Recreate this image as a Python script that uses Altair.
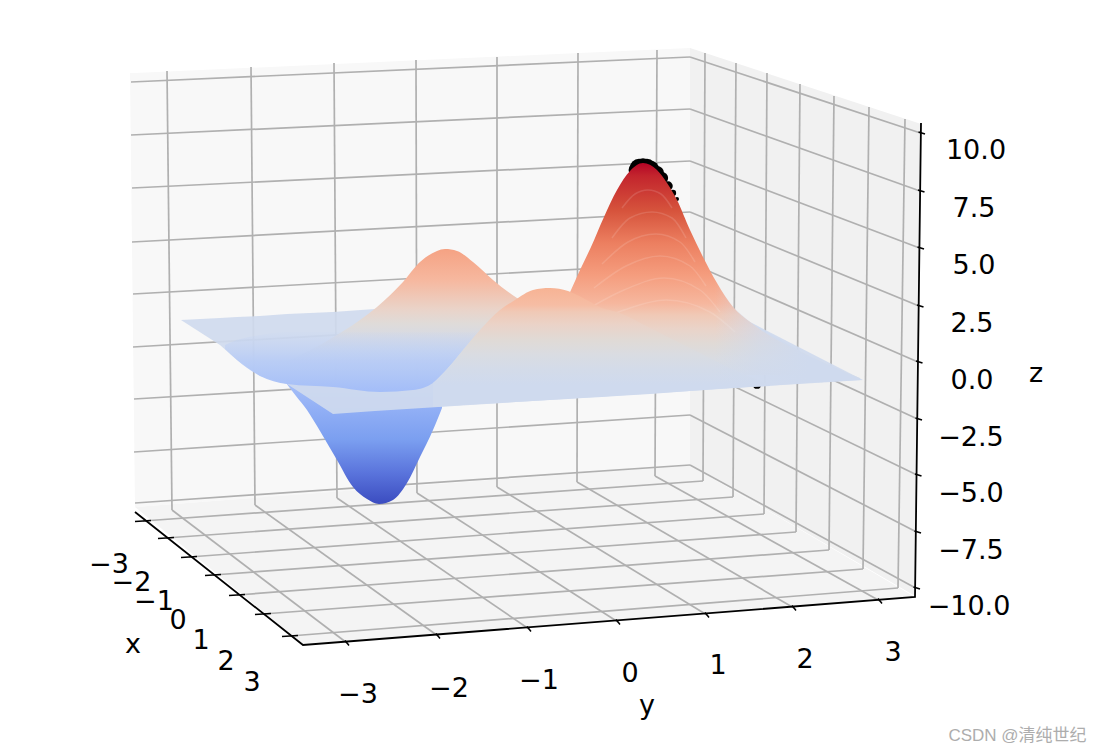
import altair as alt
import pandas as pd

W, H = 1101, 753
SX = alt.Scale(domain=[8, 1093], nice=False, zero=False)
SY = alt.Scale(domain=[745, 8], nice=False, zero=False)
X = alt.X("x:Q", scale=SX, axis=None)
Y = alt.Y("y:Q", scale=SY, axis=None)
Y2 = alt.Y2("y2:Q")

GRID = "#b0b0b0"
BASE = "#cfdaee"

# panes
back_wall = ([130, 135, 690, 691], [73, 73, 48, 48], [73, 507, 465, 48])
side_wall = ([690, 915, 921], [48, 122, 124], [465, 596, 124])
floor = ([135, 304, 690, 915], [507, 494, 465, 597], [507, 645, 615, 597])

# grid lines
wall_v_top = [(167, 71), (251, 67), (334, 63), (416, 60), (497, 57), (578, 53), (657, 50)]
wall_v_bot = [(172, 510), (255, 505), (337, 498), (417, 493), (497, 487), (577, 482), (655, 476)]
y_ticks_pos = [(347, 643), (438, 636), (529, 629), (618, 622), (707, 615), (794, 608), (880, 601)]
side_v_top = [(705, 53), (736, 63), (767, 73), (800, 84), (834, 96), (869, 107), (905, 119)]
side_v_bot = [(703, 481), (733, 497), (764, 514), (796, 532), (829, 550), (863, 569), (898, 588)]
x_ticks_pos = [(143, 521), (166, 538), (189, 557), (213, 575), (237, 595), (263, 614), (290, 636)]
z_left_y = [82, 135, 188, 242, 294, 347, 399, 452, 503]
z_left_x = [131, 131, 132, 132, 133, 133, 134, 134, 135]
z_mid_y = [57, 109, 161, 212, 263, 314, 365, 415, 465]
z_right_y = [133, 191, 248, 306, 362, 419, 475, 532, 588]
z_right_x = [920.5, 920, 919.5, 919, 918, 917.5, 917, 916.5, 915.5]

# axes
axis_x = [135, 303, 915, 921]
axis_y = [512, 645, 597, 123]

# labels
x_labels = ["\u22123", "\u22122", "\u22121", "0", "1", "2", "3"]
x_label_x = [109, 131.5, 154, 178, 201, 226, 252]
x_label_y = [573, 591, 610, 629, 649, 670, 691]
y_labels = ["\u22123", "\u22122", "\u22121", "0", "1", "2", "3"]
y_label_x = [358, 449, 539, 630, 718, 805, 893]
y_label_y = [703, 697, 689, 682, 674, 668, 661]
z_labels = ["10.0", "7.5", "5.0", "2.5", "0.0", "\u22122.5", "\u22125.0", "\u22127.5", "\u221210.0"]
z_label_x = [976, 974, 974, 972, 972, 971, 971, 971, 969]
z_label_y = [159, 217, 274, 332, 389, 446, 502, 559, 615]

# surface outlines
sheet_x = [181, 220, 237, 260, 287, 333, 375, 705, 750, 863]
sheet_top = [320, 318, 317, 316, 314, 312, 309, 292, 322, 380]
sheet_low = [320, 345, 360, 376, 384, 414, 411, 390, 387, 380]

pit_x = [286, 296, 307, 320, 337, 353, 367, 379, 393, 407, 420, 433, 442]
pit_top = [380] * 13
pit_low = [383, 396, 410, 431, 460, 487, 499, 504, 500, 483, 457, 430, 408]

peak_x = [565, 571, 580, 591, 604, 617, 630, 643, 657, 667, 677, 690, 703, 717, 733, 750, 807, 860]
peak_top = [303, 290, 270, 247, 217, 190, 171, 163, 170, 183, 200, 230, 257, 283, 307, 322, 355, 378]
peak_low = [375, 375, 375, 375, 375, 375, 375, 375, 375, 375, 375, 375, 375, 375, 375, 375, 375, 379]

# faint facet bands on the peak
arc_id = [1] * 5 + [2] * 5 + [3] * 5 + [4] * 5 + [5] * 5 + [6] * 5
arc_x = [622, 635, 648, 661, 672,
         612, 630, 652, 672, 686,
         602, 628, 656, 680, 695,
         594, 626, 660, 690, 706,
         586, 624, 664, 700, 720,
         588, 624, 666, 710, 735]
arc_y = [208, 194, 190, 194, 208,
         238, 218, 212, 218, 238,
         264, 242, 234, 242, 262,
         288, 266, 256, 266, 286,
         310, 290, 278, 290, 312,
         325, 310, 300, 312, 332]

hill1_x = [290, 320, 345, 360, 377, 403, 420, 437, 445, 457, 473, 493, 517, 545]
hill1_top = [360, 345, 330, 320, 307, 282, 262, 251, 249, 251, 262, 280, 298, 312]
hill1_low = [385] * 14

bowl_x = [225, 237, 260, 287, 333, 380, 413, 433, 448, 463, 480]
bowl_top = [345, 340, 335, 332, 332, 332, 332, 332, 332, 332, 330]
bowl_low = [349, 360, 376, 384, 387, 392, 390, 383, 368, 350, 330]

hill2_x = [433, 448, 463, 480, 500, 515, 533, 550, 568, 583, 602, 617, 650, 690, 730, 770]
hill2_top = [383, 368, 350, 330, 310, 300, 290, 288, 291, 298, 308, 312, 328, 348, 368, 385]
hill2_low = [407, 406, 405, 404, 403, 402, 401, 400, 399, 398, 397, 396, 394, 391, 388, 386]

flank_x = [715, 733, 750, 807, 860]
flank_top = [281, 307, 322, 355, 379]
flank_low = [389, 388, 387, 383, 380]

# scatter markers
pts_x = [643, 639, 647, 636, 651, 657, 662, 668, 673, 677, 757]
pts_y = [168, 168, 168, 170, 169, 173, 178, 186, 193, 199, 385]
pts_size = [380, 340, 340, 220, 260, 200, 150, 90, 40, 16, 60]


def seg(a, b):
    return pd.DataFrame({"x": [p[0] for p in a], "y": [p[1] for p in a],
                         "x2": [p[0] for p in b], "y2": [p[1] for p in b]})


def band(xs, top, low):
    return pd.DataFrame({"x": xs, "y": top, "y2": low})


def grad(stops, horizontal=False):
    span = dict(x1=0, x2=1, y1=0, y2=0) if horizontal else dict(x1=0, x2=0, y1=0, y2=1)
    return alt.Gradient(gradient="linear", **span,
                        stops=[alt.GradientStop(color=c, offset=o) for o, c in stops])


def area(df, fill, opacity=1.0, interp="linear"):
    return alt.Chart(df).mark_area(fill=fill, opacity=opacity, interpolate=interp, stroke=None).encode(
        x=X, y=Y, y2=Y2)


def rules(df, color=GRID, width=1.7):
    return alt.Chart(df).mark_rule(color=color, strokeWidth=width).encode(
        x=X, y=Y, x2="x2:Q", y2="y2:Q")


def texts(lbls, xs, ys, size=27, color="black", font="DejaVu Sans", align="center"):
    df = pd.DataFrame({"t": lbls, "x": xs, "y": ys})
    return alt.Chart(df).mark_text(fontSize=size, color=color, font=font, align=align,
                                   baseline="alphabetic").encode(x=X, y=Y, text="t:N")


layers = [
    area(band(*back_wall), "#f8f8f8"),
    area(band(*side_wall), "#f1f1f1"),
    area(band(*floor), "#f4f4f4"),
    rules(seg(wall_v_top, wall_v_bot)),
    rules(seg(wall_v_bot, y_ticks_pos)),
    rules(seg(side_v_top, side_v_bot)),
    rules(seg(x_ticks_pos, side_v_bot)),
    rules(seg(list(zip(z_left_x, z_left_y)), [(690, v) for v in z_mid_y])),
    rules(seg([(690, v) for v in z_mid_y], list(zip(z_right_x, z_right_y)))),
    alt.Chart(pd.DataFrame({"x": axis_x, "y": axis_y, "o": range(4)})).mark_line(
        color="black", strokeWidth=1.8).encode(x=X, y=Y, order="o:Q"),
    rules(seg([(a - 8, b + 0.5) for a, b in x_ticks_pos], [(a + 8, b - 0.5) for a, b in x_ticks_pos]), "black", 1.5),
    rules(seg([(a - 2, b - 2.5) for a, b in y_ticks_pos], [(a + 2, b + 2.5) for a, b in y_ticks_pos]), "black", 1.5),
    rules(seg([(a - 2, b - 1) for a, b in zip(z_right_x, z_right_y)],
              [(a + 4.5, b + 1) for a, b in zip(z_right_x, z_right_y)]), "black", 1.5),
    alt.Chart(pd.DataFrame({"x": pts_x, "y": pts_y, "s": pts_size})).mark_circle(color="black", opacity=1).encode(
        x=X, y=Y, size=alt.Size("s:Q", scale=None, legend=None)),
    # pit below the sheet
    area(band(pit_x, pit_top, pit_low),
         grad([(0, "#a9c1f8"), (0.25, "#90aef5"), (0.48, "#7b9ff0"), (0.75, "#5a74dc"), (1, "#3b4cc0")]),
         interp="monotone"),
    # flat sheet
    area(band(sheet_x, sheet_top, sheet_low), BASE, opacity=0.92),
    # main peak
    area(band(peak_x, peak_top, peak_low),
         grad([(0, "#b40426"), (0.06, "#c3252d"), (0.22, "#d6533c"), (0.37, "#ec7f60"), (0.52, "#f59d7e"),
               (0.65, "#f6b79e"), (0.704, "#f0c9b6"), (0.765, "#ead3c8"), (0.836, "#e0dad6"),
               (0.906, "#d9dce2"), (0.977, "#d3dbe9"), (1, "#d1dbeb")]),
         interp="monotone"),
    alt.Chart(pd.DataFrame({"x": arc_x, "y": arc_y, "a": arc_id})).mark_line(
        color="white", opacity=0.13, strokeWidth=1.5, interpolate="monotone").encode(x=X, y=Y, detail="a:N"),
    # back hill
    area(band(hill1_x, hill1_top, hill1_low),
         grad([(0, "#f5a283"), (0.23, "#f6b89f"), (0.44, "#ead3c8"), (0.55, "#dfdbd9"), (0.66, "#d5dae6"),
               (0.78, BASE), (1, "rgba(207,218,238,0)")]),
         interp="monotone"),
    # far wall of the pit, seen over the front lip
    area(band(bowl_x, bowl_top, bowl_low),
         grad([(0, "rgba(190,208,245,0)"), (0.5, "rgba(181,202,246,0.85)"), (1, "#a3bdf8")]),
         interp="monotone"),
    # front hill
    area(band(hill2_x, hill2_top, hill2_low),
         grad([(0, "#f7b394"), (0.143, "#f6bda4"), (0.2, "#f0c9b6"), (0.31, "#ead3c8"), (0.437, "#e0dad6"),
               (0.563, "#d9dce2"), (0.69, "#d3dbe9"), (0.815, BASE), (1, BASE)]),
         interp="monotone"),
    # right flank fading into the flat sheet
    area(band(flank_x, flank_top, flank_low),
         grad([(0, "rgba(207,218,238,0)"), (0.3, "rgba(207,218,238,0.6)"), (0.65, BASE), (1, BASE)], horizontal=True)),
    texts(x_labels, x_label_x, x_label_y),
    texts(y_labels, y_label_x, y_label_y),
    texts(z_labels, z_label_x, z_label_y),
    texts(["x"], [133], [653]),
    texts(["y"], [647], [714]),
    texts(["z"], [1036], [382]),
    texts(["CSDN @清纯世纪"], [1017.5], [741], size=17, color="#adadad",
          font="Liberation Sans, Noto Sans CJK SC"),
]

chart = alt.layer(*layers).properties(
    width=W - 16, height=H - 16, padding=0,
    autosize=alt.AutoSizeParams(type="none", contains="padding"),
).configure_view(stroke=None)

chart.save("out.html", embed_options={"renderer": "svg", "actions": False})
